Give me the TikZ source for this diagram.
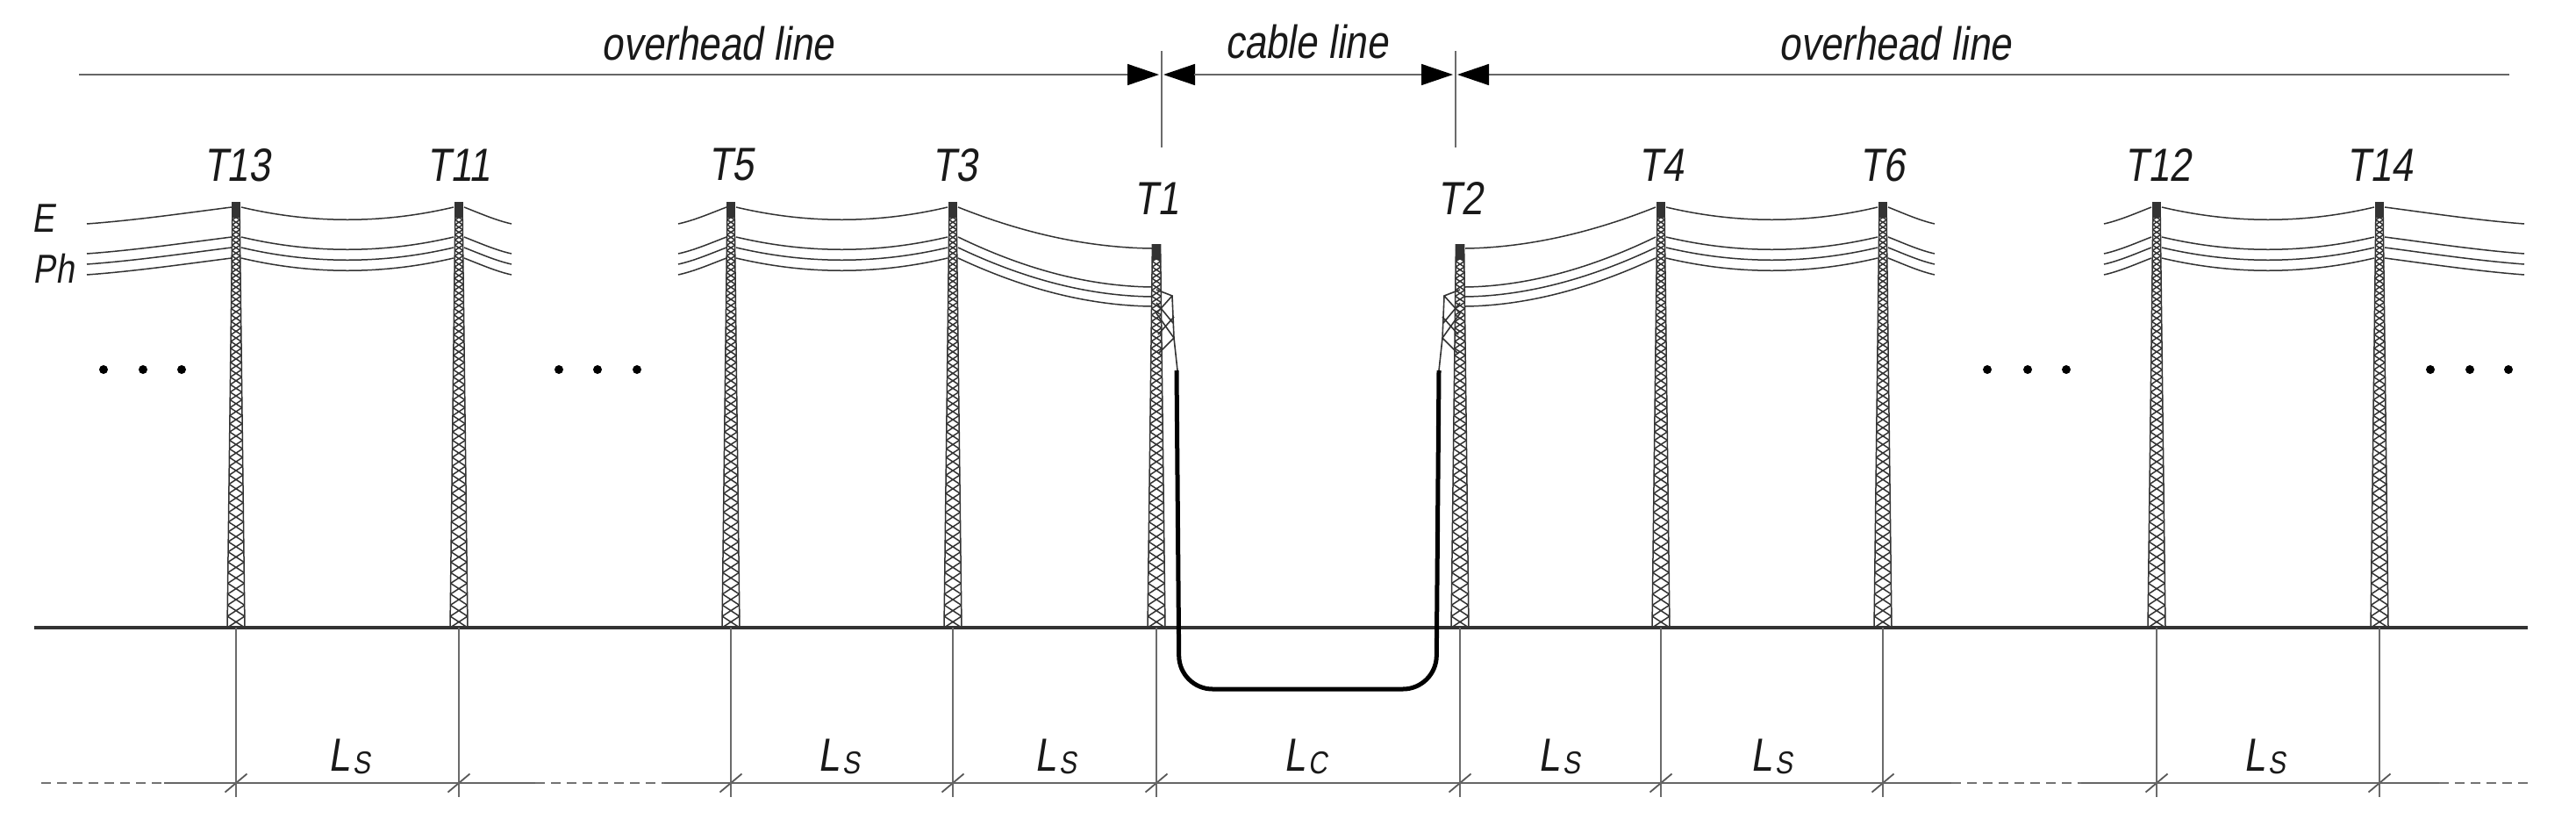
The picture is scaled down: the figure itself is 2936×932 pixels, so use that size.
\documentclass[tikz,border=0pt]{standalone}
\usepackage{fontspec}
\setmainfont{Liberation Sans}
\newfontfamily\lblfont[FakeStretch=0.83,FakeSlant=0.16]{Liberation Sans}
\usetikzlibrary{arrows.meta}
\definecolor{inkc}{gray}{0.2}
\newcommand{\TowerAt}[2]{%
  \begin{scope}[shift={(#1,0)},towerline]
    \clip (-16,#2) rectangle (16,716);
    \draw (-10,715) -- (-4,230) -- (4,230) -- (10,715);
    \fill[inkc] (-5,#2) rectangle (5,#2+18);
    \foreach \i in {0,...,56}{%
      \pgfmathsetmacro{\ya}{715-808*(1-0.984^\i)}%
      \pgfmathsetmacro{\yb}{715-808*(1-0.984^(\i+1))}%
      \pgfmathsetmacro{\wa}{10-(715-\ya)*6/485}%
      \pgfmathsetmacro{\wb}{10-(715-\yb)*6/485}%
      \draw (-\wa,\ya) -- (\wb,\yb) (\wa,\ya) -- (-\wb,\yb);
    }
  \end{scope}}
\newcommand{\WireSpan}[2]{%
  \foreach \y in {236,270,282,294}{%
    \pgfmathsetmacro{\xa}{#1+6}\pgfmathsetmacro{\xb}{#2-6}%
    \pgfmathsetmacro{\ca}{\xa+(\xb-\xa)/3}\pgfmathsetmacro{\cb}{\xa+2*(\xb-\xa)/3}%
    \draw[wire] (\xa,\y) .. controls (\ca,\y+19) and (\cb,\y+19) .. (\xb,\y);
  }}
\newcommand{\WireFree}[2]{% #1 pole side x, #2 free end x
  \foreach \y in {236,270,282,294}{%
    \pgfmathsetmacro{\ca}{#1+(#2-#1)/3}\pgfmathsetmacro{\cb}{#1+2*(#2-#1)/3}%
    \draw[wire] (#1,\y) .. controls (\ca,\y+7) and (\cb,\y+15) .. (#2,\y+19);
  }}
\newcommand{\SpanDots}[3]{%
  \foreach \x in {#1,#2,#3}{\fill (\x,421) circle (5);}}
\tikzset{
  towerline/.style={draw=inkc,line width=1.5pt},
  wire/.style={draw=inkc,line width=1.5pt},
  dimline/.style={draw=black!60,line width=1.5pt},
  extline/.style={draw=black!58,line width=1.6pt},
  tickmark/.style={draw=black!65,line width=1.8pt},
  dashline/.style={draw=black!55,line width=1.7pt,dash pattern=on 11pt off 7pt},
  ground/.style={draw=black!80,line width=3.5pt},
  cable/.style={draw=black,line width=5pt,rounded corners=38pt},
  lbl/.style={font=\lblfont\fontsize{53}{53}\selectfont,text=black!90,inner sep=0pt},
  lbls/.style={font=\lblfont\fontsize{46}{46}\selectfont,text=black!90,inner sep=0pt},
  spanlbl/.style={lbl,anchor=base},
  endarrow/.style={-{Triangle[length=36pt,width=24pt,fill=black,color=black]},draw=black!60,line width=1.5pt},
}
\newcommand{\SpanName}[1]{L\kern3pt\raisebox{-3pt}{\fontsize{36}{36}\selectfont #1}}
\begin{document}
\begin{tikzpicture}[x=1pt,y=-1pt]
\useasboundingbox (0,0) rectangle (2936,932);
\fill[white] (0,0) rectangle (2936,932);

% named points
\foreach \n/\x in {t13/269,t11/523,t5/833,t3/1086,t1/1318,t2/1664,t4/1893,t6/2146,t12/2458,t14/2712}{
  \coordinate (g\n) at (\x,715);
  \coordinate (d\n) at (\x,892);
  \coordinate (e\n) at (\x,908);
}

% overhead / cable dimension line
\coordinate (topL) at (90,85);
\coordinate (topR) at (2860,85);
\coordinate (m1) at (1324,85);
\coordinate (m2) at (1659,85);
\coordinate (m1b) at (1324,168);
\coordinate (m2b) at (1659,168);
\coordinate (m1t) at (1324,58);
\coordinate (m2t) at (1659,58);
\draw[extline,line width=1.3pt] (m1t) -- (m1b);
\draw[extline,line width=1.3pt] (m2t) -- (m2b);
\draw[endarrow] (topL) -- ([xshift=-3pt]m1);
\draw[endarrow] ([xshift=37pt]m1) -- ([xshift=2pt]m1);
\draw[endarrow] ([xshift=37pt]m1) -- ([xshift=-3pt]m2);
\draw[endarrow] (topR) -- ([xshift=2pt]m2);

\node[lbl] (ol1) at (818,50) {overhead line};
\node[lbl] (cl) at (1489,48) {cable line};
\node[lbl] (ol2) at (2160,50) {overhead line};

% towers
\foreach \x in {269,523,833,1086,1893,2146,2458,2712}{\TowerAt{\x}{230}}
\TowerAt{1318}{278}
\TowerAt{1664}{278}

% cross arms on the terminal towers
\foreach \s/\x in {1/1318,-1/1664}{
  \begin{scope}[shift={(\x,0)},xscale=\s]
    \draw[draw=inkc,line width=1.6pt]
      (0,330) -- (18,337) -- (20,385) -- (24,422)
      (18,337) -- (0,357) -- (20,385) -- (2,403)
      (20,361) -- (2,381) (0,345) -- (19,368);
  \end{scope}
}

% ground and cable
\draw[ground] (39,715) -- (2881,715);
\draw[cable] (1341,422) -- (1344,785) -- (1637,785) -- (1640,422);

% conductors
\WireFree{264}{99}
\WireSpan{269}{523}
\WireFree{529}{583}
\WireFree{828}{773}
\WireSpan{833}{1086}
\WireSpan{1893}{2146}
\WireFree{2152}{2205}
\WireFree{2452}{2398}
\WireSpan{2458}{2712}
\WireFree{2718}{2877}
\foreach \ya/\yb in {236/283,270/327,282/338,294/349}{
  \pgfmathsetmacro{\cma}{\ya+(\yb-\ya)*0.62}
  \pgfmathsetmacro{\cmb}{\yb-1}
  \draw[wire] (1092,\ya) .. controls (1165,\cma) and (1238,\cmb) .. (1313,\yb);
  \draw[wire] (1887,\ya) .. controls (1814,\cma) and (1741,\cmb) .. (1670,\yb);
}

% continuation dots
\SpanDots{118}{163}{207}
\SpanDots{637}{681}{726}
\SpanDots{2265}{2311}{2355}
\SpanDots{2770}{2815}{2859}

% tower labels
\node[lbl] (lt13) at (270,188) {T13};
\node[lbl] (lt11) at (523,188) {T11};
\node[lbl] (lt5) at (833,188) {T5};
\node[lbl] (lt3) at (1088,188) {T3};
\node[lbl] (lt1) at (1318,226) {T1};
\node[lbl] (lt2) at (1664,226) {T2};
\node[lbl] (lt4) at (1893,188) {T4};
\node[lbl] (lt6) at (2145,188) {T6};
\node[lbl] (lt12) at (2459,188) {T12};
\node[lbl] (lt14) at (2712,188) {T14};
\node[lbls] (le) at (49,249) {E};
\node[lbls] (lph) at (61,306) {Ph};

% span dimension
\foreach \n in {t13,t11,t5,t3,t1,t2,t4,t6,t12,t14}{
  \draw[extline] (g\n) -- (e\n);
  \draw[tickmark] ([shift={(-12.5,10.5)}]d\n) -- ([shift={(12.5,-10.5)}]d\n);
}
\coordinate (s1a) at (187,892); \coordinate (s1b) at (610,892);
\coordinate (s2a) at (757,892); \coordinate (s2b) at (2224,892);
\coordinate (s3a) at (2372,892); \coordinate (s3b) at (2780,892);
\coordinate (da1) at (47,892); \coordinate (da2) at (2885,892);
\draw[dimline] (s1a) -- (s1b);
\draw[dimline] (s2a) -- (s2b);
\draw[dimline] (s3a) -- (s3b);
\draw[dashline] (da1) -- (s1a);
\draw[dashline] (s1b) -- (s2a);
\draw[dashline] (s2b) -- (s3a);
\draw[dashline] (s3b) -- (da2);

\node[spanlbl] (ls1) at (398,878) {\SpanName{S}};
\node[spanlbl] (ls2) at (956,878) {\SpanName{S}};
\node[spanlbl] (ls3) at (1203,878) {\SpanName{S}};
\node[spanlbl] (lc) at (1488,878) {\SpanName{C}};
\node[spanlbl] (ls4) at (1777,878) {\SpanName{S}};
\node[spanlbl] (ls5) at (2019,878) {\SpanName{S}};
\node[spanlbl] (ls6) at (2581,878) {\SpanName{S}};
\end{tikzpicture}
\end{document}
